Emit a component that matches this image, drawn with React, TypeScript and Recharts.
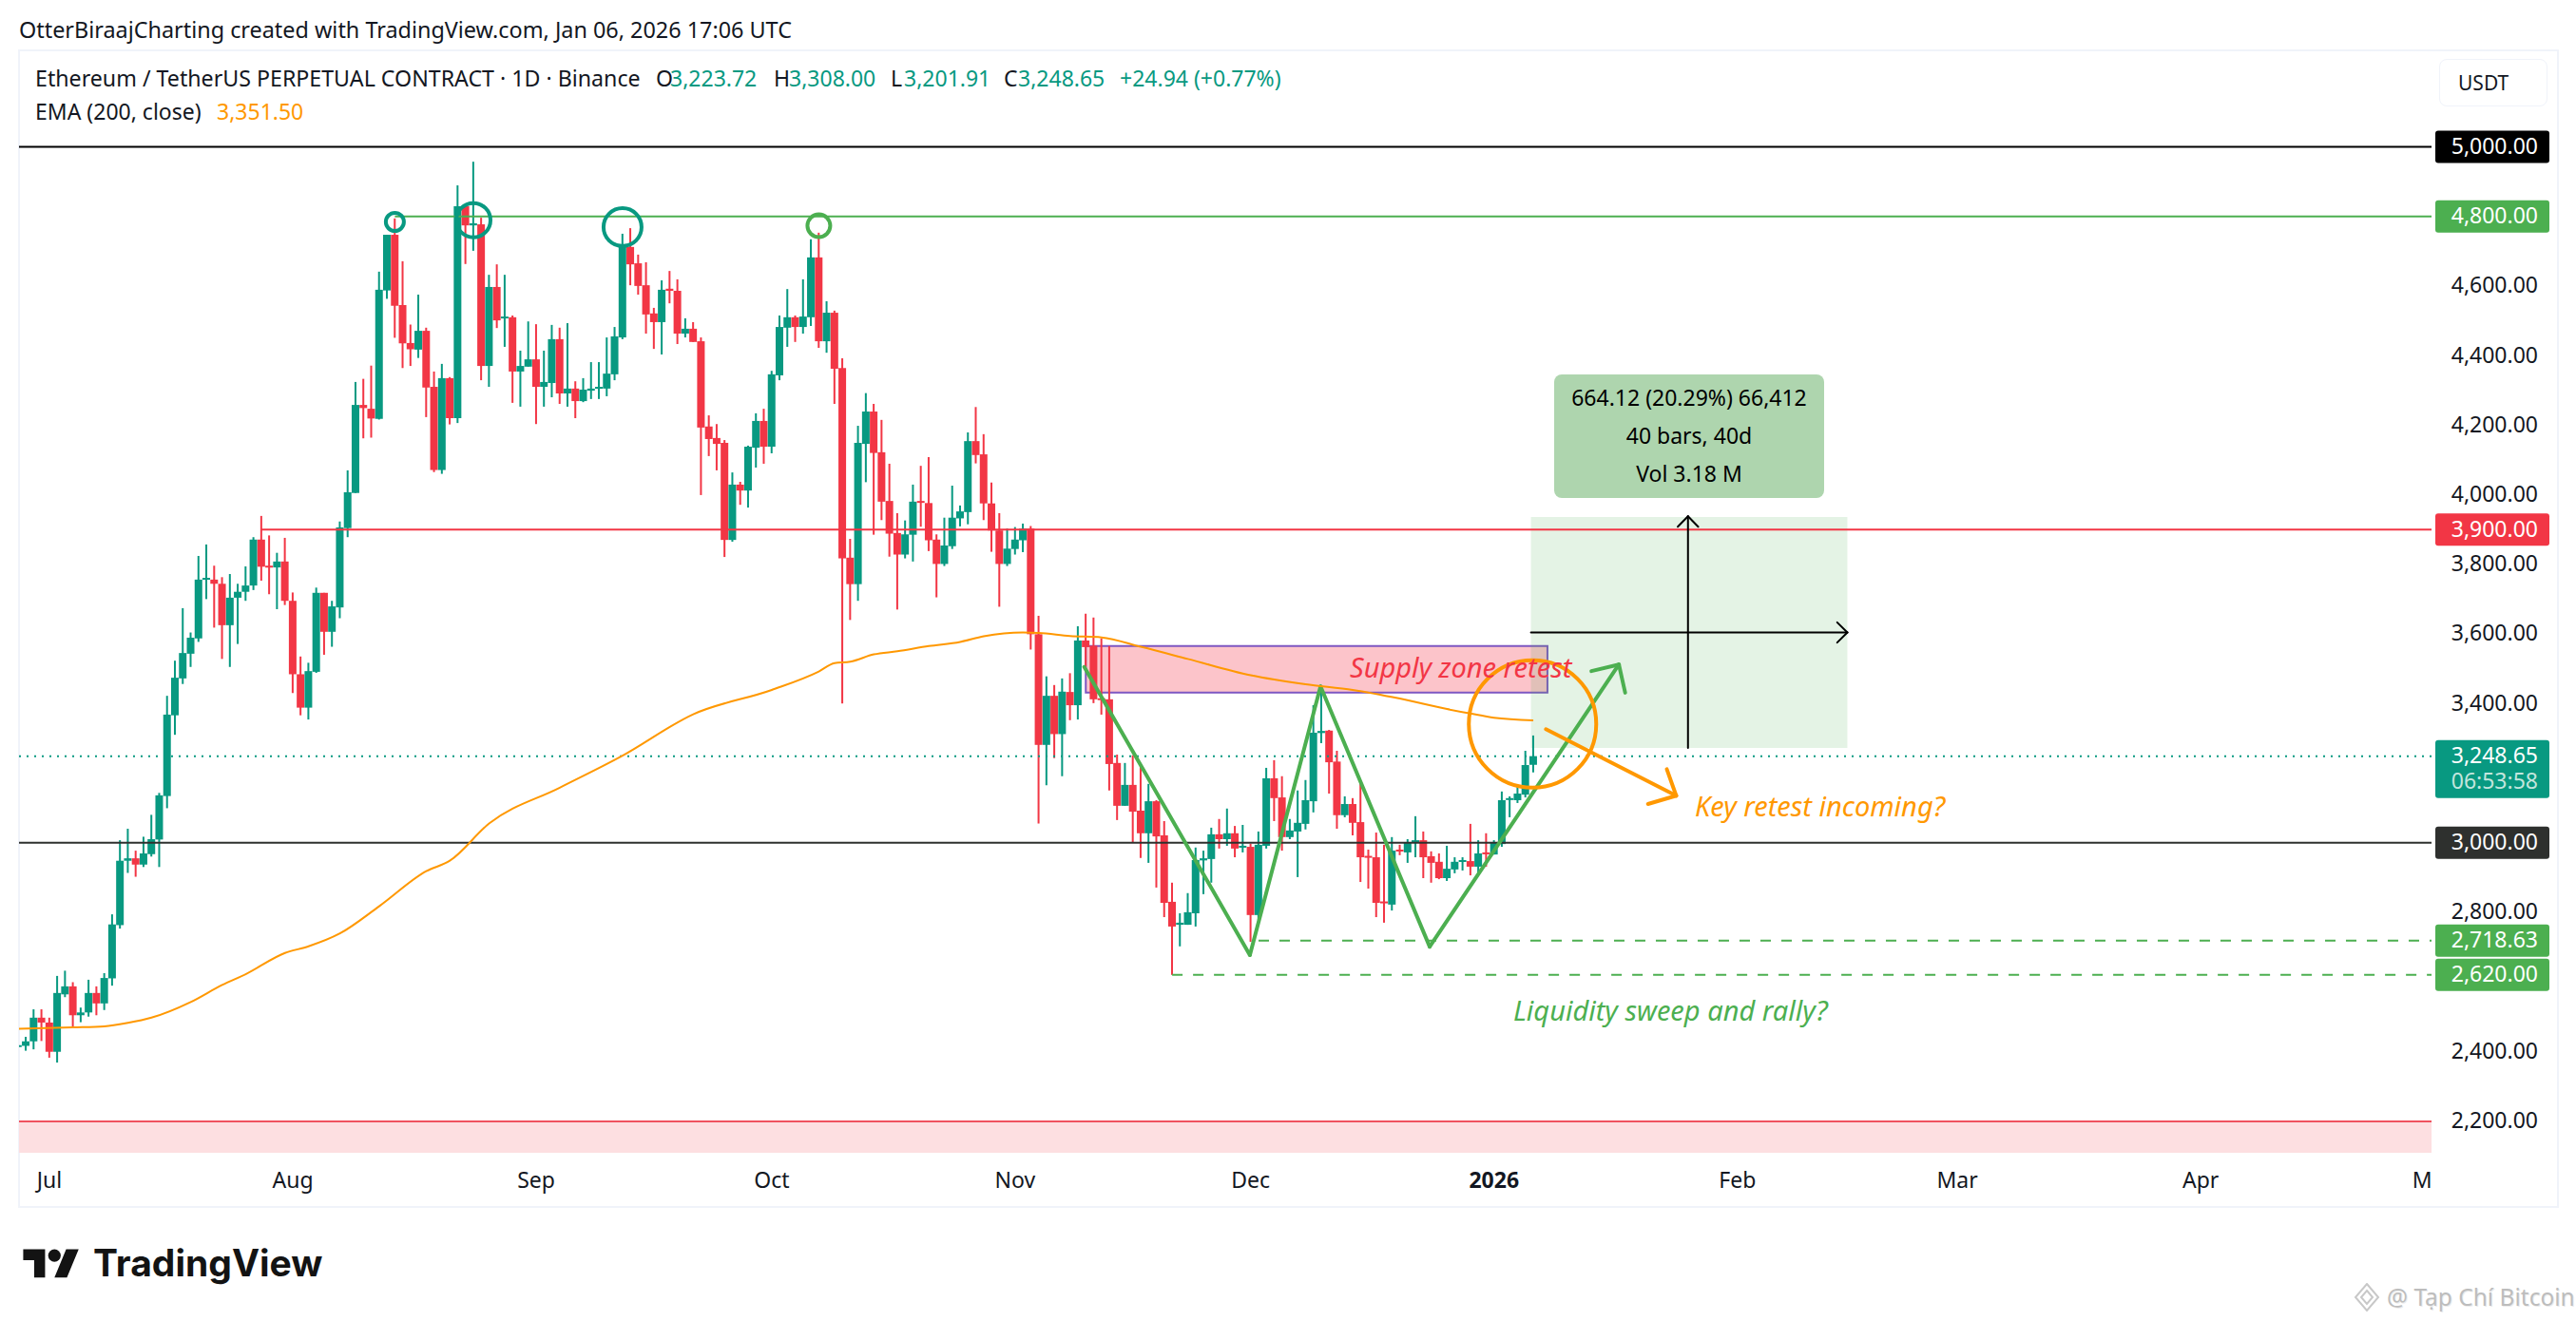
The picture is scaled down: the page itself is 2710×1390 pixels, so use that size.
import React from 'react';
import {
  ComposedChart,
  Bar,
  Line,
  XAxis,
  YAxis,
  ReferenceLine,
  ReferenceArea,
  ReferenceDot,
} from 'recharts';

// Daily candles, first one is four days before Jul 1 2025 (index 0), last is Jan 6 2026
const firstIndex = -4;
const opens = [
  2413, 2416, 2429, 2497, 2483, 2399, 2564, 2587, 2504, 2512,
  2568, 2538, 2610, 2763, 2948, 2955, 2937, 2967, 3009, 3134,
  3366, 3472, 3543, 3587, 3756, 3756, 3744, 3625, 3704, 3721,
  3739, 3871, 3796, 3791, 3808, 3695, 3484, 3388, 3491, 3718,
  3606, 3676, 3904, 4005, 4258, 4247, 4218, 4587, 4747, 4545,
  4436, 4417, 4471, 4310, 4071, 4335, 4220, 4829, 4774, 4777,
  4370, 4597, 4507, 4510, 4354, 4368, 4389, 4310, 4321, 4447,
  4291, 4305, 4269, 4299, 4305, 4305, 4346, 4452, 4712, 4665,
  4602, 4521, 4496, 4592, 4586, 4463, 4477, 4441, 4196, 4163,
  4149, 3870, 4029, 4012, 4135, 4212, 4138, 4343, 4480, 4510,
  4482, 4510, 4682, 4441, 4523, 4364, 3819, 3743, 4146, 4239,
  4122, 3982, 3890, 3828, 3885, 3982, 3976, 3871, 3801, 3852,
  3932, 3950, 4154, 4116, 3975, 3897, 3801, 3844, 3869, 3903,
  3599, 3281, 3422, 3312, 3433, 3395, 3581, 3566, 3415, 3412,
  3229, 3106, 3166, 3092, 3027, 3119, 3021, 2830, 2764, 2764,
  2797, 2949, 2953, 3024, 3010, 3027, 2987, 2988, 2792, 2991,
  3185, 3130, 3016, 3032, 3054, 3119, 3315, 3322, 3233, 3079,
  3111, 3059, 2962, 2958, 2831, 2822, 2980, 2972, 3000, 3007,
  2961, 2945, 2898, 2923, 2946, 2947, 2931, 2972, 2966, 2996,
  3124, 3122, 3138, 3223.72,
];
const highs = [
  2460, 2442, 2521, 2521, 2497, 2617, 2632, 2599, 2526, 2606,
  2587, 2625, 2794, 3007, 3040, 2977, 3017, 3080, 3143, 3422,
  3523, 3674, 3604, 3824, 3857, 3796, 3763, 3772, 3744, 3794,
  3878, 3939, 3883, 3833, 3876, 3719, 3535, 3517, 3733, 3718,
  3695, 3923, 4070, 4324, 4333, 4371, 4641, 4747, 4794, 4671,
  4489, 4575, 4480, 4354, 4376, 4338, 4889, 4829, 4957, 4796,
  4632, 4662, 4632, 4515, 4414, 4498, 4490, 4414, 4488, 4480,
  4493, 4326, 4335, 4381, 4381, 4452, 4482, 4750, 4766, 4690,
  4668, 4537, 4616, 4643, 4619, 4507, 4496, 4452, 4228, 4203,
  4157, 4064, 4037, 4141, 4234, 4247, 4356, 4515, 4591, 4515,
  4619, 4734, 4753, 4556, 4529, 4392, 3873, 4198, 4292, 4261,
  4215, 4089, 3947, 3926, 4029, 4083, 4108, 3886, 3934, 4026,
  3969, 4179, 4252, 4174, 4035, 3947, 3903, 3907, 3917, 3910,
  3652, 3478, 3453, 3472, 3487, 3622, 3658, 3647, 3587, 3565,
  3253, 3229, 3251, 3221, 3169, 3122, 3062, 2885, 2797, 2855,
  2986, 2977, 3043, 3068, 3098, 3048, 3051, 2997, 3032, 3215,
  3237, 3191, 3068, 3150, 3180, 3395, 3451, 3324, 3264, 3133,
  3128, 3174, 2980, 3029, 2994, 3016, 2994, 3010, 3076, 3032,
  2975, 2969, 2991, 2958, 2958, 3054, 3007, 3027, 3007, 3147,
  3133, 3163, 3264, 3308,
];
const lows = [
  2373, 2402, 2406, 2430, 2382, 2368, 2556, 2469, 2484, 2500,
  2504, 2519, 2589, 2753, 2913, 2902, 2930, 2960, 2930, 3099,
  3310, 3456, 3505, 3577, 3700, 3618, 3528, 3505, 3571, 3695,
  3726, 3753, 3714, 3671, 3683, 3430, 3366, 3354, 3488, 3540,
  3563, 3645, 3878, 4005, 4162, 4164, 4216, 4563, 4451, 4364,
  4370, 4393, 4223, 4065, 4060, 4202, 4206, 4663, 4701, 4329,
  4310, 4479, 4425, 4264, 4253, 4368, 4203, 4253, 4280, 4261,
  4253, 4220, 4266, 4275, 4275, 4283, 4329, 4447, 4602, 4575,
  4463, 4419, 4403, 4550, 4433, 4452, 4439, 3999, 4111, 4070,
  3821, 3865, 3971, 3963, 4078, 4089, 4119, 4329, 4425, 4439,
  4463, 4485, 4422, 4408, 4261, 3400, 3640, 3695, 4036, 3885,
  3927, 3822, 3670, 3817, 3808, 3908, 3838, 3705, 3795, 3844,
  3909, 3915, 4090, 3927, 3836, 3678, 3795, 3828, 3835, 3555,
  3055, 3165, 3243, 3191, 3352, 3354, 3505, 3401, 3368, 3150,
  3065, 3106, 2999, 2956, 2942, 2871, 2786, 2620, 2702, 2764,
  2759, 2852, 2885, 2983, 2991, 2958, 2972, 2715, 2778, 2983,
  3062, 2977, 3010, 2901, 3038, 3087, 3286, 3141, 3040, 3073,
  3021, 2887, 2868, 2786, 2770, 2805, 2964, 2942, 2958, 2898,
  2885, 2895, 2890, 2912, 2920, 2906, 2914, 2931, 2966, 2988,
  3073, 3114, 3130, 3201.91,
];
const closes = [
  2418, 2429, 2497, 2483, 2399, 2568, 2587, 2504, 2512, 2568,
  2538, 2611, 2765, 2948, 2955, 2937, 2969, 3010, 3136, 3368,
  3474, 3545, 3589, 3756, 3761, 3744, 3625, 3704, 3721, 3739,
  3871, 3793, 3791, 3808, 3695, 3484, 3388, 3493, 3718, 3606,
  3679, 3906, 4007, 4258, 4249, 4219, 4589, 4747, 4543, 4435,
  4418, 4471, 4308, 4071, 4335, 4220, 4829, 4774, 4780, 4370,
  4597, 4501, 4512, 4354, 4370, 4389, 4310, 4324, 4447, 4291,
  4305, 4269, 4302, 4305, 4310, 4348, 4455, 4720, 4662, 4600,
  4518, 4496, 4589, 4586, 4463, 4477, 4439, 4193, 4160, 4146,
  3870, 4029, 4012, 4138, 4212, 4138, 4346, 4482, 4510, 4482,
  4512, 4682, 4441, 4523, 4362, 3817, 3743, 4149, 4239, 4120,
  3980, 3888, 3828, 3886, 3980, 3978, 3869, 3801, 3854, 3934,
  3952, 4154, 4114, 3975, 3897, 3801, 3845, 3871, 3903, 3599,
  3281, 3422, 3312, 3434, 3395, 3581, 3562, 3412, 3412, 3226,
  3106, 3166, 3089, 3027, 3119, 3018, 2827, 2759, 2770, 2800,
  2950, 2955, 3024, 3010, 3027, 2983, 2991, 2792, 2994, 3185,
  3128, 3016, 3035, 3057, 3122, 3316, 3321, 3231, 3079, 3111,
  3057, 2958, 2958, 2827, 2827, 2977, 2976, 3000, 3007, 2958,
  2942, 2898, 2925, 2945, 2950, 2931, 2969, 2967, 3000, 3122,
  3128, 3141, 3223, 3248.65,
];

// EMA 200 read at these candle indexes
const emaIndex = [-4, 3, 7, 10, 13, 18, 22, 25, 30, 33, 37, 42, 48, 51, 56, 65, 73, 82, 92, 98, 100, 102, 105, 108, 112, 116, 119, 124, 126, 130, 134, 139, 145, 153, 160, 166, 172, 178, 181, 184, 189];
const emaValues = [2465, 2469, 2472, 2482, 2497, 2542, 2591, 2622, 2683, 2702, 2739, 2817, 2918, 2948, 3055, 3158, 3250, 3369, 3439, 3492, 3516, 3520, 3541, 3550, 3565, 3577, 3593, 3604, 3603, 3594, 3590, 3563, 3528, 3481, 3455, 3439, 3414, 3384, 3371, 3359, 3351.5];

const monthTicks = [0, 31, 62, 92, 123, 153, 184, 215, 243, 274, 303];
const monthLabels = ['Jul', 'Aug', 'Sep', 'Oct', 'Nov', 'Dec', '2026', 'Feb', 'Mar', 'Apr', 'M'];

const priceTicks = [4600, 4400, 4200, 4000, 3800, 3600, 3400, 2800, 2400, 2200, 5000, 4800, 3900, 3248.65, 3000, 2718.63, 2620];
const priceBadges: Record<number, string> = {
  5000: '#000000',
  4800: '#4caf50',
  3900: '#f23645',
  3248.65: '#089981',
  3000: '#2e302e',
  2718.63: '#4caf50',
  2620: '#4caf50',
};

// drawings, as [candle index, price]
const patternLine = [[131.8, 3505], [152.9, 2677], [161.9, 3449], [175.8, 2701], [199.9, 3512]];
const patternHead = [[196.4, 3493], [199.9, 3512], [200.7, 3431]];
const retestLine = [[190.6, 3326], [207.2, 3135]];
const retestHead = [[206, 3211], [207.2, 3135], [203.6, 3111]];
const hArrow = [[188.7, 3604], [229, 3604]];
const hHead = [[227.7, 3633], [229, 3604], [227.7, 3575]];
const vArrow = [[208.7, 3272], [208.7, 3938]];
const vHead = [[207.4, 3908], [208.7, 3938], [210, 3908]];
const tealCircles = [[44, 4784, 9.5], [54, 4789, 18], [73, 4769, 20]];

const TEAL = '#089981';
const RED = '#f23645';
const GREEN = '#4caf50';
const ORANGE = '#ff9800';
const INK = '#131722';
const FONT = '"Noto Sans", sans-serif';

const xMin = -3.87;
const xMax = 303.4;
const yMin = 2108.7;
const yMax = 5277;

const rows = Array.from({ length: 308 }, (_, k) => {
  const i = firstIndex + k;
  const row: any = { i };
  if (k < opens.length) {
    row.o = opens[k];
    row.h = highs[k];
    row.l = lows[k];
    row.c = closes[k];
    row.range = [lows[k], highs[k]];
  }
  const e = emaIndex.indexOf(i);
  if (e >= 0) row.ema = emaValues[e];
  return row;
});

function Candle(props: any) {
  const { x, y, width, height, payload } = props;
  if (!payload || payload.o === undefined) return null;
  const { o, h, l, c } = payload;
  const up = c >= o;
  const color = up ? TEAL : RED;
  const k = height / (h - l);
  const top = y + (h - Math.max(o, c)) * k;
  const bodyH = Math.max(Math.abs(o - c) * k, 2);
  return (
    <g>
      <rect x={x + width / 2 - 1} y={y} width={2} height={height} fill={color} />
      <rect x={x} y={top} width={width} height={bodyH} fill={color} />
    </g>
  );
}

function MonthTick({ x, y, payload }: any) {
  const label = monthLabels[monthTicks.indexOf(payload.value)];
  return (
    <text
      x={label === 'M' ? x + 4 : x}
      y={y + 26}
      textAnchor={label === 'M' ? 'end' : 'middle'}
      dominantBaseline="central"
      fontFamily={FONT}
      fontSize={23}
      fontWeight={label === '2026' ? 700 : 400}
      fill={INK}
    >
      {label}
    </text>
  );
}

function PriceTick({ x, y, payload }: any) {
  const v = payload.value;
  const badge = priceBadges[v];
  const label = v.toLocaleString('en-US', { minimumFractionDigits: 2, maximumFractionDigits: 2 });
  const isLast = v === 3248.65;
  return (
    <g fontFamily={FONT} fontSize={23}>
      {badge && <rect x={x + 2} y={y - 17} width={120} height={isLast ? 61 : 34} rx={3} fill={badge} />}
      <text x={x + 110} y={y - 1.5} textAnchor="end" dominantBaseline="central" fill={badge ? '#ffffff' : INK}>
        {label}
      </text>
      {isLast && (
        <text x={x + 110} y={y + 25.5} textAnchor="end" dominantBaseline="central" fill="#c2e5dd">
          06:53:58
        </text>
      )}
    </g>
  );
}

function polyline(pts: number[][], color: string, width: number, key: string) {
  return pts.slice(1).map((p, n) => (
    <ReferenceLine
      key={key + n}
      segment={[{ x: pts[n][0], y: pts[n][1] }, { x: p[0], y: p[1] }]}
      stroke={color}
      strokeWidth={width}
      strokeLinecap="round"
    />
  ));
}

function Txt({ x, y, children, style }: any) {
  return (
    <div
      style={{
        position: 'absolute',
        left: x,
        top: y,
        transform: 'translateY(-50%)',
        whiteSpace: 'nowrap',
        fontFamily: FONT,
        fontSize: 23,
        lineHeight: 1.2,
        color: INK,
        ...style,
      }}
    >
      {children}
    </div>
  );
}

export default function App() {
  return (
    <div style={{ position: 'absolute', left: 0, top: 0, width: 2710, height: 1390, background: '#fff', overflow: 'hidden' }}>
      <div style={{ position: 'absolute', left: 19, top: 52, width: 2669, height: 1215, border: '2px solid #f0f3fa' }} />

      <div style={{ position: 'absolute', left: 0, top: 0 }}>
        <ComposedChart width={2710} height={1390} data={rows} margin={{ top: 53, right: 0, bottom: 0, left: 20 }}>
          <XAxis
            dataKey="i"
            type="number"
            domain={[xMin, xMax]}
            allowDataOverflow
            ticks={monthTicks}
            interval={0}
            height={177}
            axisLine={false}
            tickLine={false}
            tickSize={0}
            tick={MonthTick}
          />
          <YAxis
            orientation="right"
            type="number"
            domain={[yMin, yMax]}
            allowDataOverflow
            ticks={priceTicks}
            interval={0}
            width={152}
            axisLine={false}
            tickLine={false}
            tickSize={0}
            tick={PriceTick}
          />

          <ReferenceArea x1={xMin} x2={xMax} y1={yMin} y2={2199} fill="#fddfe1" fillOpacity={1} stroke="none" />
          <ReferenceLine y={2199} stroke="#f0525f" strokeWidth={2} />
          <ReferenceArea x1={132} x2={190.8} y1={3431} y2={3565} fill="#fcc4ca" fillOpacity={1} stroke="#7e57c2" strokeWidth={2} />
          <ReferenceArea x1={188.7} x2={229} y1={3272} y2={3936} fill={GREEN} fillOpacity={0.15} stroke="none" />

          <ReferenceLine y={5000} stroke="#000000" strokeWidth={2} />
          <ReferenceLine segment={[{ x: 44, y: 4800 }, { x: xMax, y: 4800 }]} stroke={GREEN} strokeWidth={2} />
          <ReferenceLine segment={[{ x: 27, y: 3900 }, { x: xMax, y: 3900 }]} stroke={RED} strokeWidth={2} />
          <ReferenceLine y={3000} stroke="#2e302e" strokeWidth={2} />
          <ReferenceLine y={3248.65} stroke={TEAL} strokeWidth={2} strokeDasharray="2 6" />
          <ReferenceLine segment={[{ x: 154, y: 2718.63 }, { x: xMax, y: 2718.63 }]} stroke={GREEN} strokeWidth={2} strokeDasharray="11 11" />
          <ReferenceLine segment={[{ x: 143, y: 2620 }, { x: xMax, y: 2620 }]} stroke={GREEN} strokeWidth={2} strokeDasharray="11 11" />

          {polyline(hArrow, '#000000', 2, 'ha')}
          {polyline(hHead, '#000000', 2, 'hh')}
          {polyline(vArrow, '#000000', 2, 'va')}
          {polyline(vHead, '#000000', 2, 'vh')}
          {polyline(patternLine, GREEN, 4, 'pl')}
          {polyline(patternHead, GREEN, 4, 'ph')}
          {polyline(retestLine, ORANGE, 4, 'rl')}
          {polyline(retestHead, ORANGE, 4, 'rh')}

          {tealCircles.map((c) => (
            <ReferenceDot key={c[0]} x={c[0]} y={c[1]} r={c[2]} fill="none" stroke={TEAL} strokeWidth={4} />
          ))}
          <ReferenceDot x={98} y={4773} r={12} fill="none" stroke={GREEN} strokeWidth={4} />
          <ReferenceDot x={188.9} y={3341} r={67} fill="none" stroke={ORANGE} strokeWidth={4} />

          <Line type="monotone" dataKey="ema" stroke={ORANGE} strokeWidth={2} dot={false} connectNulls isAnimationActive={false} />
          <Bar dataKey="range" barSize={8} shape={Candle} isAnimationActive={false} />
        </ComposedChart>
      </div>

      <Txt x={20} y={31} style={{ fontSize: 23.4 }}>OtterBiraajCharting created with TradingView.com, Jan 06, 2026 17:06 UTC</Txt>
      <Txt x={37} y={83} style={{ fontSize: 23.2 }}>Ethereum / TetherUS PERPETUAL CONTRACT · 1D · Binance</Txt>
      <Txt x={690} y={83}>O</Txt>
      <Txt x={705} y={83} style={{ color: TEAL }}>3,223.72</Txt>
      <Txt x={814} y={83}>H</Txt>
      <Txt x={830} y={83} style={{ color: TEAL }}>3,308.00</Txt>
      <Txt x={937} y={83}>L</Txt>
      <Txt x={951} y={83} style={{ color: TEAL }}>3,201.91</Txt>
      <Txt x={1056} y={83}>C</Txt>
      <Txt x={1071} y={83} style={{ color: TEAL }}>3,248.65</Txt>
      <Txt x={1178} y={83} style={{ color: TEAL }}>+24.94 (+0.77%)</Txt>
      <Txt x={37} y={118}>EMA (200, close)</Txt>
      <Txt x={228} y={118} style={{ color: ORANGE }}>3,351.50</Txt>

      <div
        style={{
          position: 'absolute', left: 2566, top: 62, width: 114, height: 50, border: '1px solid #f0f3fa', borderRadius: 8,
          display: 'flex', alignItems: 'center', paddingLeft: 19, boxSizing: 'border-box', fontFamily: FONT, fontSize: 21, color: INK,
        }}
      >
        USDT
      </div>

      <div
        style={{
          position: 'absolute', left: 1635, top: 394, width: 284, height: 130, background: '#aed5ae', borderRadius: 8,
          fontFamily: FONT, fontSize: 23, color: '#000', textAlign: 'center',
        }}
      >
        <div style={{ position: 'absolute', left: 0, right: 0, top: 24, transform: 'translateY(-50%)' }}>664.12 (20.29%) 66,412</div>
        <div style={{ position: 'absolute', left: 0, right: 0, top: 64, transform: 'translateY(-50%)' }}>40 bars, 40d</div>
        <div style={{ position: 'absolute', left: 0, right: 0, top: 104, transform: 'translateY(-50%)' }}>Vol 3.18 M</div>
      </div>

      <Txt x={1420} y={702} style={{ color: RED, fontStyle: 'italic', fontSize: 29 }}>Supply zone retest</Txt>
      <Txt x={1783} y={848} style={{ color: ORANGE, fontStyle: 'italic', fontSize: 29 }}>Key retest incoming?</Txt>
      <Txt x={1592} y={1063} style={{ color: GREEN, fontStyle: 'italic', fontSize: 29 }}>Liquidity sweep and rally?</Txt>

      <svg style={{ position: 'absolute', left: 24, top: 1307.5 }} width={60} height={46} viewBox="0 0 36 28">
        <path d="M14 22H7V11H0V4h14v18zM28 22h-8l7.5-18h8L28 22z" fill="#131313" />
        <circle cx={20} cy={8} r={4} fill="#131313" />
      </svg>
      <Txt x={98} y={1329} style={{ fontFamily: 'Inter, sans-serif', fontWeight: 700, fontSize: 39, color: '#131313' }}>TradingView</Txt>

      <svg style={{ position: 'absolute', left: 2476, top: 1350 }} width={28} height={30} viewBox="0 0 28 30">
        <path d="M14 1L26 15L14 29L2 15Z M14 8L20 15L14 22L8 15Z" fill="none" stroke="#c8c8c8" strokeWidth={2} />
      </svg>
      <Txt x={2511} y={1365} style={{ color: '#bdbdbd', fontSize: 24.5, textShadow: '1px 1px 0 #ececec' }}>@ Tạp Chí Bitcoin</Txt>
    </div>
  );
}
